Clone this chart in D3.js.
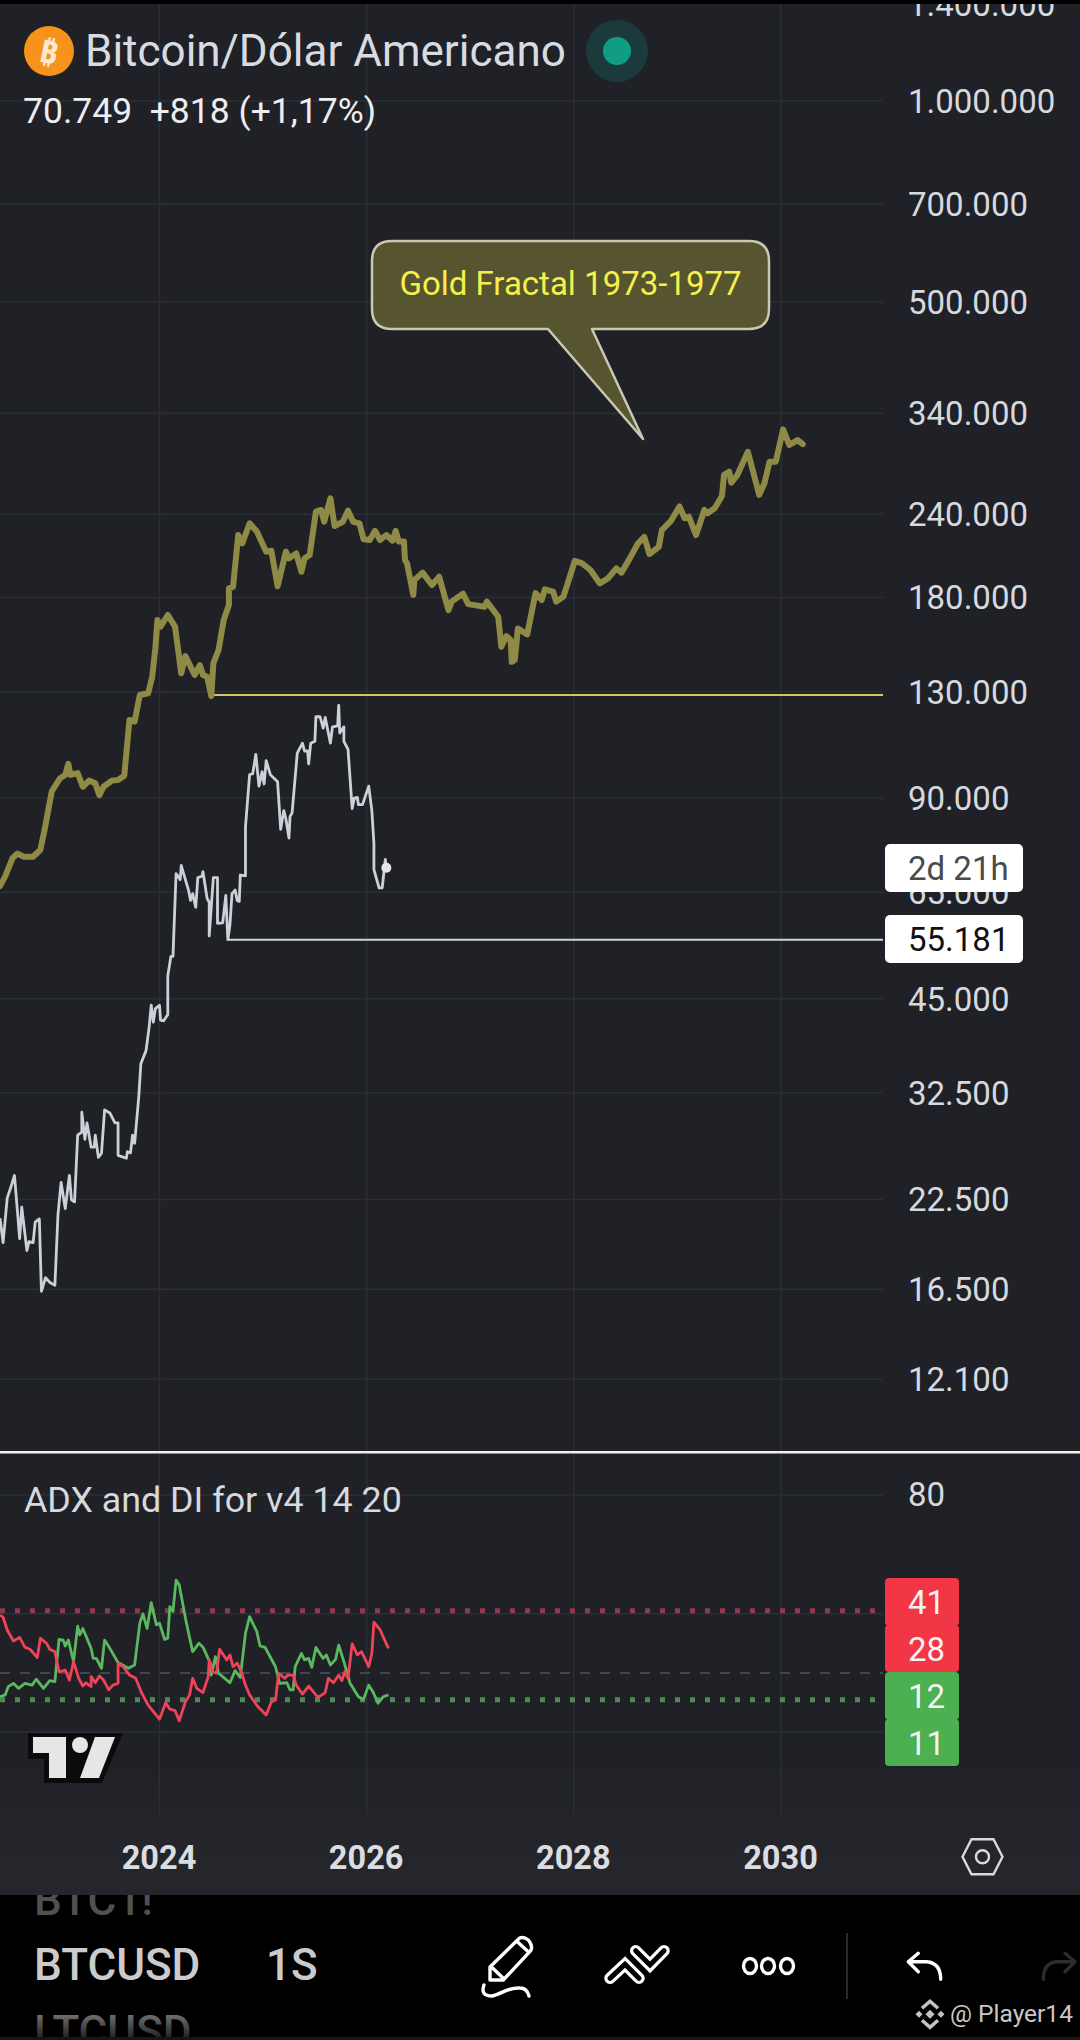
<!DOCTYPE html>
<html><head><meta charset="utf-8">
<style>
html,body{margin:0;padding:0;background:#1f2127;overflow:hidden}
svg{display:block}
text{font-family:Roboto,"Noto Sans",sans-serif}
.priceAxis text,.adxAxis text{font-size:33px;fill:#d6d9df}
.timeAxis text{font-size:32.5px;font-weight:700;fill:#dcdde0}
.domain{display:none}
</style>
<script src="https://cdn.jsdelivr.net/npm/d3@7/dist/d3.min.js"></script>
</head><body><svg id="c" width="1080" height="2040"></svg>
<script>
const priceTicks=[1400000,1000000,700000,500000,340000,240000,180000,130000,90000,65000,45000,32500,22500,16500,12100];
const yearTicks=[2024,2026,2028,2030];
const adxTicks=[80];
const adxGrid=[80,40,0];
const title="Bitcoin/Dólar Americano";
const quote="70.749  +818 (+1,17%)";
const callout="Gold Fractal 1973-1977";
const paneTitle="ADX and DI for v4 14 20";
const goldLevel=128500, btcLevel=55181, lastPrice=70749;
const upperLevel=41, midLevel=20, lowerLevel=11;

const goldYears=[2022.46,2022.51,2022.58,2022.63,2022.69,2022.78,2022.85,2022.89,2022.96,2023.04,2023.09,2023.12,2023.14,2023.21,2023.26,2023.32,2023.38,2023.42,2023.46,2023.54,2023.60,2023.66,2023.68,2023.71,2023.76,2023.81,2023.89,2023.93,2023.96,2023.98,2024.01,2024.08,2024.15,2024.21,2024.25,2024.34,2024.39,2024.42,2024.46,2024.50,2024.52,2024.57,2024.62,2024.67,2024.67,2024.71,2024.76,2024.80,2024.87,2024.94,2025.03,2025.08,2025.14,2025.22,2025.25,2025.32,2025.37,2025.40,2025.45,2025.51,2025.56,2025.59,2025.65,2025.69,2025.77,2025.82,2025.87,2025.93,2025.97,2026.03,2026.08,2026.13,2026.19,2026.25,2026.28,2026.31,2026.36,2026.37,2026.39,2026.45,2026.46,2026.54,2026.63,2026.70,2026.79,2026.82,2026.93,2026.98,2027.14,2027.16,2027.27,2027.30,2027.35,2027.39,2027.40,2027.43,2027.46,2027.55,2027.63,2027.69,2027.72,2027.80,2027.83,2027.90,2028.01,2028.08,2028.16,2028.25,2028.33,2028.41,2028.46,2028.54,2028.62,2028.68,2028.73,2028.82,2028.85,2028.94,2029.02,2029.07,2029.11,2029.18,2029.26,2029.29,2029.36,2029.43,2029.45,2029.50,2029.52,2029.58,2029.68,2029.79,2029.84,2029.89,2029.95,2030.02,2030.08,2030.16,2030.21];
const goldPrices=[66400,68700,73100,74300,73500,73500,75300,80600,92100,96400,97500,101300,97500,98100,93600,95600,94700,90900,93600,95600,95800,97200,105100,117900,117200,128500,129300,136900,151000,166500,162700,169400,162700,138500,147000,137700,142500,137700,136900,128000,143300,150100,166500,175300,185700,186700,223300,217000,232500,226000,210800,211500,187100,210800,206000,209600,196700,206000,208400,242100,243500,233800,253500,230400,233800,242900,233800,232500,220000,219500,226600,219500,223300,219000,226600,218300,218300,204800,202500,181500,191100,196100,187900,193300,172300,177400,182300,175900,174300,177400,168400,151800,157500,155400,144100,145000,161700,158400,182700,178400,185100,183600,177400,180500,204300,202500,197900,189000,192200,199000,196100,206000,217000,221900,209100,214300,227200,234700,246500,236600,237900,223300,243500,240700,244900,255500,274900,277900,267500,274900,297700,256500,267100,287700,287700,321600,304800,310000,305600];

const btcYears=[2022.46,2022.49,2022.53,2022.56,2022.60,2022.65,2022.67,2022.72,2022.74,2022.78,2022.80,2022.84,2022.86,2022.90,2022.94,2022.99,2023.02,2023.05,2023.09,2023.13,2023.15,2023.18,2023.21,2023.25,2023.25,2023.28,2023.30,2023.34,2023.37,2023.38,2023.41,2023.44,2023.47,2023.52,2023.57,2023.60,2023.60,2023.68,2023.69,2023.72,2023.74,2023.76,2023.80,2023.82,2023.87,2023.90,2023.92,2023.94,2023.96,2024.00,2024.01,2024.04,2024.08,2024.08,2024.11,2024.13,2024.16,2024.17,2024.20,2024.21,2024.25,2024.28,2024.30,2024.32,2024.35,2024.37,2024.41,2024.42,2024.46,2024.48,2024.48,2024.52,2024.56,2024.56,2024.61,2024.64,2024.66,2024.68,2024.70,2024.73,2024.75,2024.77,2024.78,2024.83,2024.83,2024.87,2024.90,2024.93,2024.96,2024.99,2025.01,2025.03,2025.07,2025.14,2025.17,2025.20,2025.22,2025.25,2025.26,2025.28,2025.33,2025.38,2025.40,2025.43,2025.44,2025.46,2025.50,2025.51,2025.55,2025.58,2025.60,2025.65,2025.67,2025.72,2025.73,2025.74,2025.78,2025.78,2025.82,2025.86,2025.88,2025.91,2025.92,2025.96,2026.02,2026.05,2026.07,2026.07,2026.12,2026.15,2026.18,2026.19];
const btcPrices=[21090,19380,22620,23340,24440,19650,21900,18860,19440,19380,20800,21030,16380,17170,16900,16720,21360,23860,21800,24440,22470,22310,28100,28380,30410,27680,29300,26950,26950,28100,26020,26390,30660,30330,29300,29300,26200,25940,26530,26420,28100,27300,32100,35950,37620,40800,44000,41500,43500,44000,41800,41700,42600,48700,52100,52100,69300,69000,67900,71300,67900,65500,63200,64700,61700,68400,68700,69800,63600,62800,55900,68400,68400,58400,58500,64300,55200,58100,64700,65500,63200,63000,69000,68800,81500,97600,97900,104700,93800,98600,94500,102400,97600,95200,80800,86200,83800,78400,84400,85500,105100,108800,105900,105900,101300,108800,109500,119200,119200,114600,118900,108800,115100,115500,124000,112700,115100,109500,106500,86800,90000,90200,88000,88000,93800,86200,77000,70300,66000,66000,72800,70749];

const diMinusYears=[2022.46,2022.49,2022.53,2022.59,2022.65,2022.70,2022.75,2022.82,2022.85,2022.91,2022.94,2022.99,2023.03,2023.09,2023.13,2023.17,2023.22,2023.26,2023.29,2023.34,2023.34,2023.38,2023.42,2023.46,2023.51,2023.55,2023.60,2023.60,2023.65,2023.71,2023.77,2023.83,2023.89,2024.00,2024.06,2024.10,2024.15,2024.19,2024.25,2024.29,2024.32,2024.36,2024.42,2024.47,2024.48,2024.51,2024.55,2024.58,2024.65,2024.68,2024.71,2024.75,2024.79,2024.83,2024.87,2024.95,2025.03,2025.08,2025.12,2025.15,2025.21,2025.24,2025.29,2025.32,2025.38,2025.44,2025.53,2025.60,2025.63,2025.68,2025.73,2025.76,2025.79,2025.82,2025.86,2025.91,2025.95,2026.02,2026.05,2026.07,2026.13,2026.21];
const diMinusValues=[39.5,38.8,34.5,30.8,32.0,28.7,28.0,25.2,31.7,30.0,28.0,27.2,20.4,21.0,17.6,23.8,18.2,15.6,16.7,15.4,18.8,16.7,19.0,17.6,14.3,15.9,16.5,23.2,22.1,19.3,18.2,13.1,9.2,4.4,10.0,7.8,7.3,3.9,10.3,12.6,18.2,14.8,13.4,18.7,24.4,20.4,19.9,28.0,24.4,26.1,22.1,23.3,20.4,15.9,12.6,8.6,5.8,10.3,10.9,19.9,18.2,19.3,19.3,15.9,12.9,15.6,11.8,13.4,18.2,16.7,19.3,17.4,20.4,18.2,29.8,26.1,27.2,22.1,26.6,37.1,34.5,28.3];

const diPlusYears=[2022.46,2022.51,2022.54,2022.59,2022.64,2022.70,2022.77,2022.81,2022.88,2022.94,2022.99,2023.03,2023.07,2023.09,2023.12,2023.17,2023.21,2023.23,2023.26,2023.34,2023.36,2023.39,2023.44,2023.47,2023.51,2023.60,2023.70,2023.76,2023.81,2023.84,2023.88,2023.92,2023.97,2024.00,2024.05,2024.08,2024.10,2024.13,2024.16,2024.19,2024.26,2024.32,2024.38,2024.42,2024.49,2024.50,2024.54,2024.57,2024.63,2024.68,2024.73,2024.78,2024.83,2024.87,2024.94,2024.97,2025.02,2025.12,2025.16,2025.23,2025.26,2025.29,2025.31,2025.37,2025.40,2025.44,2025.47,2025.51,2025.58,2025.61,2025.65,2025.70,2025.73,2025.78,2025.84,2025.92,2025.97,2026.02,2026.06,2026.11,2026.16,2026.21];
const diPlusValues=[12.0,12.6,15.4,16.5,14.8,16.5,15.9,17.9,14.8,17.4,17.1,31.3,31.1,29.1,31.1,23.8,35.8,32.8,35.0,28.3,24.9,24.9,21.6,31.1,28.9,23.5,21.6,22.7,36.8,39.9,35.0,43.7,36.2,36.8,31.3,31.7,42.4,40.7,51.3,49.7,36.8,27.2,30.0,28.7,23.3,19.3,25.5,19.9,18.2,16.7,20.8,18.5,33.4,39.0,33.9,29.1,28.6,22.1,16.5,16.7,14.3,14.3,22.1,26.6,24.4,24.9,21.9,28.6,24.9,26.1,22.7,24.6,29.4,23.8,16.5,12.0,11.1,15.9,13.7,9.8,12.0,12.6];

const adxBadges=[{t:"41",c:"#f23645"},{t:"28",c:"#f23645"},{t:"12",c:"#4caf50"},{t:"11",c:"#4caf50"}];

const W=1080,H=2040,plotR=883;
const svg=d3.select("#c");
const x=d3.scaleLinear().domain([2024,2030]).range([159.5,781]);
const y=d3.scaleLog().domain([1000000,12100]).range([101,1379]);
const ya=d3.scaleLinear().domain([0,80]).range([1732.3,1495]);
const dotFmt=d=>d3.format(",")(d).replace(/,/g,".");
const grid="#2c2e36";

const defs=svg.append("defs");
const bgGrad=defs.append("linearGradient").attr("id","bg").attr("gradientUnits","userSpaceOnUse").attr("x1",0).attr("x2",0).attr("y1",1760).attr("y2",1860);
bgGrad.append("stop").attr("offset",0).attr("stop-color","#1f2127");
bgGrad.append("stop").attr("offset",1).attr("stop-color","#24262b");
const fade=defs.append("linearGradient").attr("id","fade").attr("gradientUnits","userSpaceOnUse").attr("x1",0).attr("x2",0).attr("y1",2012).attr("y2",2040);
fade.append("stop").attr("offset",0).attr("stop-color","#777");
fade.append("stop").attr("offset",1).attr("stop-color","#1c1c1c");

svg.append("rect").attr("width",W).attr("height",H).attr("fill","#1f2127");
svg.append("rect").attr("y",1760).attr("width",W).attr("height",140).attr("fill","url(#bg)");

// grid
svg.append("g").selectAll("line").data(yearTicks).join("line")
 .attr("x1",d=>x(d)).attr("x2",d=>x(d)).attr("y1",4).attr("y2",1815).attr("stroke",grid).attr("stroke-width",1.5);
svg.append("g").selectAll("line").data(priceTicks).join("line")
 .attr("x1",0).attr("x2",plotR).attr("y1",d=>y(d)).attr("y2",d=>y(d)).attr("stroke",grid).attr("stroke-width",1.5);
svg.append("g").selectAll("line").data(adxGrid).join("line")
 .attr("x1",0).attr("x2",plotR).attr("y1",d=>ya(d)).attr("y2",d=>ya(d)).attr("stroke",grid).attr("stroke-width",1.5);

// series
const zip=(a,b)=>a.map((d,i)=>[d,b[i]]);
const priceLine=d3.line().x(d=>x(d[0])).y(d=>y(d[1]));
const adxLine=d3.line().x(d=>x(d[0])).y(d=>ya(d[1]));

svg.append("line").attr("x1",x(goldYears[39])).attr("x2",plotR).attr("y1",y(goldLevel)).attr("y2",y(goldLevel)).attr("stroke","#cfc765").attr("stroke-width",2);
svg.append("path").datum(zip(goldYears,goldPrices)).attr("d",priceLine).attr("fill","none").attr("stroke","#8f8a45").attr("stroke-width",6).attr("stroke-linejoin","round").attr("stroke-linecap","round");
svg.append("line").attr("x1",x(2024.66)).attr("x2",plotR).attr("y1",y(btcLevel)).attr("y2",y(btcLevel)).attr("stroke","#d1d4dc").attr("stroke-width",2);
svg.append("path").datum(zip(btcYears,btcPrices)).attr("d",priceLine).attr("fill","none").attr("stroke","#cdd0d6").attr("stroke-width",2.8).attr("stroke-linejoin","round");
svg.append("circle").attr("cx",x(btcYears[btcYears.length-1])).attr("cy",y(lastPrice)).attr("r",5).attr("fill","#e6e7ea");

// callout
svg.append("path").attr("d","M392,241H749Q769,241 769,261V309Q769,329 749,329H592L643,439L548,329H392Q372,329 372,309V261Q372,241 392,241Z")
 .attr("fill","#57552f").attr("stroke","#c9c8b2").attr("stroke-width",2.5).attr("stroke-linejoin","round");
svg.append("text").attr("x",570.5).attr("y",283).attr("dy","0.36em").attr("text-anchor","middle").attr("font-size",33).attr("fill","#f5f04c").text(callout);

// levels in ADX pane
const lvl=(v,c,dash,w)=>svg.append("line").attr("x1",0).attr("x2",plotR).attr("y1",ya(v)).attr("y2",ya(v)).attr("stroke",c).attr("stroke-width",w).attr("stroke-dasharray",dash);
lvl(midLevel,"#434651","10 10",2);
lvl(upperLevel,"#8c3b49","5 10",5);
lvl(lowerLevel,"#4f8a56","5 10",5);
svg.append("path").datum(zip(diPlusYears,diPlusValues)).attr("d",adxLine).attr("fill","none").attr("stroke","#5cb85f").attr("stroke-width",2.8).attr("stroke-linejoin","round");
svg.append("path").datum(zip(diMinusYears,diMinusValues)).attr("d",adxLine).attr("fill","none").attr("stroke","#f0435a").attr("stroke-width",2.8).attr("stroke-linejoin","round");

// divider
svg.append("rect").attr("x",0).attr("y",1451).attr("width",W).attr("height",2.5).attr("fill","#f0f0f0");

// axes
svg.append("g").attr("class","priceAxis").attr("transform","translate(908,1)")
 .call(d3.axisRight(y).tickValues(priceTicks).tickFormat(dotFmt).tickSize(0).tickPadding(0));
svg.append("g").attr("class","adxAxis").attr("transform","translate(908,0)")
 .call(d3.axisRight(ya).tickValues(adxTicks).tickSize(0).tickPadding(0));

svg.append("g").attr("class","timeAxis").attr("transform","translate(-1,1845.5)")
 .call(d3.axisBottom(x).tickValues(yearTicks).tickFormat(d3.format("d")).tickSize(0).tickPadding(0));
svg.append("g").attr("transform","translate(982.5,1856.7)").call(g=>{
  g.append("path").attr("d","M-20,0L-11,-17.5H11L20,0L11,17.5H-11Z").attr("fill","none").attr("stroke","#d8d9dc").attr("stroke-width",2.4);
  g.append("circle").attr("r",6.5).attr("fill","none").attr("stroke","#d8d9dc").attr("stroke-width",2.4);
});

// price badges
const badge=(yy,h,fill,txt,col)=>{
 svg.append("rect").attr("x",885).attr("y",yy).attr("width",138).attr("height",h).attr("rx",5).attr("fill",fill);
 svg.append("text").attr("x",908).attr("y",yy+h/2).attr("dy","0.36em").attr("font-size",33).attr("fill",col).text(txt);
};
badge(844,48,"#ffffff","2d 21h","#4a4a4a");
badge(915,48,"#ffffff",dotFmt(btcLevel),"#111111");
adxBadges.forEach((b,i)=>{
 const yy=1578+i*47;
 svg.append("rect").attr("x",885).attr("y",yy).attr("width",74).attr("height",i==0||i==2?48:47).attr("rx",4).attr("fill",b.c);
 svg.append("text").attr("x",908).attr("y",yy+24).attr("dy","0.36em").attr("font-size",33).attr("fill","#f4f4f4").text(b.t);
});

// title block
svg.append("circle").attr("cx",49).attr("cy",51).attr("r",25).attr("fill","#f7931a");
svg.append("text").attr("x",49).attr("y",52).attr("dy","0.36em").attr("text-anchor","middle").attr("font-size",32).attr("font-weight",700).attr("fill","#fbe9d0").attr("font-family","DejaVu Sans").attr("transform","rotate(12 49 51)").text("₿");
svg.append("text").attr("x",85).attr("y",50).attr("dy","0.36em").attr("font-size",44).attr("fill","#d8dbe1").text(title);
svg.append("circle").attr("cx",617).attr("cy",51).attr("r",31).attr("fill","#1b3a3c");
svg.append("circle").attr("cx",617).attr("cy",51).attr("r",14).attr("fill","#0f9d85");
svg.append("text").attr("x",23).attr("y",110).attr("dy","0.36em").attr("font-size",35.5).attr("fill","#eceef1").attr("xml:space","preserve").style("white-space","pre").text(quote);

// pane title
svg.append("text").attr("x",24).attr("y",1499).attr("dy","0.36em").attr("font-size",35.8).attr("fill","#d6d9df").text(paneTitle);

// logo
svg.append("path").attr("d","M28,1733H123L102,1783H44V1759H28Z").attr("fill","#0b0b0c");
svg.append("path").attr("d","M33,1737H66V1778H49V1753H33Z").attr("fill","#e6e6e6");
svg.append("circle").attr("cx",80).attr("cy",1745).attr("r",8).attr("fill","#e6e6e6");
svg.append("path").attr("d","M95,1737H115L99,1778H80Z").attr("fill","#e6e6e6");

// toolbar
svg.append("rect").attr("x",0).attr("y",1895).attr("width",W).attr("height",145).attr("fill","#000");
const clip=defs.append("clipPath").attr("id","tb");
clip.append("rect").attr("x",0).attr("y",1895).attr("width",W).attr("height",145);
const tb=svg.append("g").attr("clip-path","url(#tb)");
tb.append("text").attr("x",34).attr("y",1915).attr("font-size",44).attr("font-weight",500).attr("fill","#505050").text("BTC1!");
tb.append("text").attr("x",34).attr("y",1980).attr("font-size",44).attr("font-weight",500).attr("fill","#cbcbcb").text("BTCUSD");
tb.append("text").attr("x",266).attr("y",1980).attr("font-size",44).attr("font-weight",500).attr("fill","#cbcbcb").text("1S");
tb.append("text").attr("x",34).attr("y",2047).attr("font-size",44).attr("font-weight",500).attr("fill","url(#fade)").text("LTCUSD");
const ico=tb.append("g").attr("fill","none").attr("stroke","#fff").attr("stroke-width",3.4).attr("stroke-linejoin","round").attr("stroke-linecap","round");
ico.append("path").attr("d","M490,1967L519.3,1938.3Q523.3,1936 528.3,1940Q533.3,1946 530.7,1950.7L503.3,1980H490Z");
ico.append("path").attr("d","M491.7,1967.3L503.3,1978.3M517.3,1941.7L528.3,1951.7");
ico.append("path").attr("d","M484,1985Q480,1996 492,1996C502,1994 508,1987 520,1988C526,1988 528,1992 529,1996");
[[11.5,"#fff"],[5,"#000"]].forEach(([w,c])=>{
 tb.append("path").attr("d","M610,1978.3L625,1964.3L639,1978.3").attr("fill","none").attr("stroke",c).attr("stroke-width",w).attr("stroke-linecap","round").attr("stroke-linejoin","miter");
 tb.append("path").attr("d","M635.7,1950.7L650,1965L664,1950.7").attr("fill","none").attr("stroke",c).attr("stroke-width",w).attr("stroke-linecap","round").attr("stroke-linejoin","miter");
});
[750,768,787].forEach(cx=>ico.append("ellipse").attr("cx",cx).attr("cy",1966).attr("rx",6.5).attr("ry",7.5));
tb.append("line").attr("x1",847).attr("x2",847).attr("y1",1933).attr("y2",1999).attr("stroke","#2a2a2a").attr("stroke-width",2);
ico.append("path").attr("d","M918.3,1953.3L908.3,1961.7L918.3,1971.7M908.3,1961.7H926.7Q940.7,1963 940.7,1979.3");
ico.append("path").attr("d","M1065,1953.3L1075,1961.7L1065,1971.7M1075,1961.7H1056.7Q1043.3,1963 1043.3,1979.3").attr("stroke","#2c2c2c");
const wm=tb.append("g").attr("transform","translate(930,2014.3)");
wm.append("path").attr("d","M0,-4.5L4.5,0L0,4.5L-4.5,0Z").attr("fill","#c4c4c4");
wm.append("path").attr("d","M-11,-3.5L-7.5,0L-11,3.5L-14.5,0ZM11,-3.5L14.5,0L11,3.5L7.5,0Z").attr("fill","#c4c4c4");
wm.append("path").attr("d","M-8,-6L0,-13L8,-6M-8,6L0,13L8,6").attr("fill","none").attr("stroke","#c4c4c4").attr("stroke-width",3.5);
tb.append("text").attr("x",950).attr("y",2022).attr("font-size",24.5).attr("font-family","Noto Sans").attr("fill","#c8c8c8").text("@ Player14");
tb.append("rect").attr("y",2037).attr("width",W).attr("height",3).attr("fill","#161616");

// top bar
svg.append("rect").attr("width",W).attr("height",4).attr("fill","#000");
</script></body></html>
